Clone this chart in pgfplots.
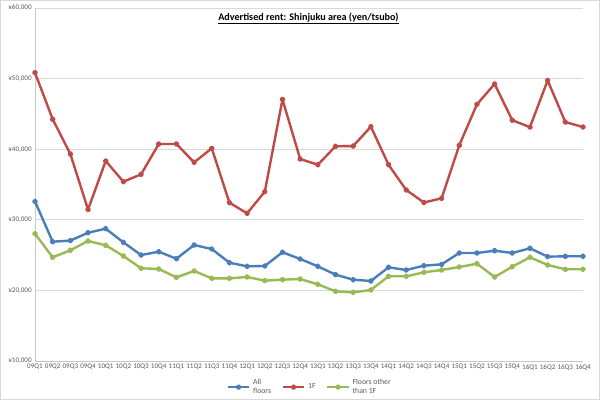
\documentclass[border=0pt]{standalone}
\usepackage{pgfplots}
\pgfplotsset{compat=1.18}
\usepackage{fontspec}
\setmainfont{Carlito}
\definecolor{cblue}{HTML}{4A7EBB}
\definecolor{cred}{HTML}{BE4B48}
\definecolor{cgreen}{HTML}{98B954}
\definecolor{cgrid}{HTML}{D9D9D9}
\definecolor{ctick}{HTML}{595959}
\begin{document}
\begin{tikzpicture}
\useasboundingbox (0,0) rectangle (450pt,300pt);
\draw[cgrid, line width=0.75pt] (0.4pt,0.4pt) rectangle (449.6pt,299.6pt);
\begin{axis}[
  at={(26.25pt,29.25pt)}, anchor=south west,
  scale only axis, width=411pt, height=264.75pt,
  xmin=0, xmax=31, ymin=10000, ymax=60000,
  scaled y ticks=false,
  ytick={10000,20000,30000,40000,50000,60000},
  yticklabels={{¥10,000},{¥20,000},{¥30,000},{¥40,000},{¥50,000},{¥60,000}},
  xtick={0,...,31},
  xticklabels={09Q1,09Q2,09Q3,09Q4,10Q1,10Q2,10Q3,10Q4,11Q1,11Q2,11Q3,11Q4,12Q1,12Q2,12Q3,12Q4,13Q1,13Q2,13Q3,13Q4,14Q1,14Q2,14Q3,14Q4,15Q1,15Q2,15Q3,15Q4,16Q1,16Q2,16Q3,16Q4},
  ymajorgrids, grid style={cgrid, line width=0.6pt},
  axis x line*=bottom, axis y line*=left,
  axis line style={cgrid!80!gray, line width=0.6pt},
  x axis line style={-}, y axis line style={-},
  tick style={draw=none},
  ticklabel style={font=\fontsize{5.3}{6}\selectfont, text=ctick},
  xticklabel style={yshift=1pt},
  yticklabel style={xshift=1pt},
  legend style={at={(0.502,-0.074)}, anchor=center, draw=none, fill=none,
    font=\fontsize{5.8}{6.4}\selectfont, text=ctick, legend columns=3,
    /tikz/every even column/.append style={column sep=6pt},
    nodes={align=left}},
  legend cell align=left,
  legend image code/.code={\draw[#1, mark repeat=2, mark phase=2] plot coordinates {(0pt,0pt)(8pt,0pt)(16pt,0pt)};},
  every axis plot/.append style={line width=1.8pt, mark=*, mark size=1.3pt, line join=round},
  clip=false,
]
\addplot[cblue, mark options={fill=cblue}] coordinates {
(0,32600)(1,26900)(2,27050)(3,28170)(4,28740)(5,26810)(6,25010)(7,25480)
(8,24490)(9,26430)(10,25860)(11,23920)(12,23410)(13,23460)(14,25400)(15,24450)
(16,23410)(17,22230)(18,21520)(19,21330)(20,23270)(21,22890)(22,23500)(23,23690)
(24,25300)(25,25300)(26,25620)(27,25300)(28,25960)(29,24780)(30,24830)(31,24830)};
\addlegendentry{All\\floors}
\addplot[cred, mark options={fill=cred}] coordinates {
(0,50840)(1,44240)(2,39320)(3,31450)(4,38330)(5,35400)(6,36440)(7,40740)
(8,40740)(9,38140)(10,40120)(11,32420)(12,30920)(13,33980)(14,47060)(15,38610)
(16,37800)(17,40410)(18,40450)(19,43190)(20,37800)(21,34220)(22,32450)(23,33040)
(24,40550)(25,46350)(26,49240)(27,44100)(28,43130)(29,49740)(30,43850)(31,43140)};
\addlegendentry{1F}
\addplot[cgreen, mark options={fill=cgreen}] coordinates {
(0,28030)(1,24690)(2,25680)(3,27000)(4,26390)(5,24870)(6,23130)(7,23030)
(8,21850)(9,22750)(10,21710)(11,21710)(12,21900)(13,21380)(14,21520)(15,21610)
(16,20860)(17,19870)(18,19730)(19,20060)(20,22000)(21,22000)(22,22560)(23,22890)
(24,23310)(25,23780)(26,21900)(27,23360)(28,24690)(29,23600)(30,22990)(31,22990)};
\addlegendentry{Floors other\\than 1F}
\node[font=\bfseries\fontsize{7.6}{8.5}\selectfont, anchor=center] at (axis description cs:0.499,0.970) {\underline{Advertised rent: Shinjuku area (yen/tsubo)}};
\end{axis}
\end{tikzpicture}
\end{document}
